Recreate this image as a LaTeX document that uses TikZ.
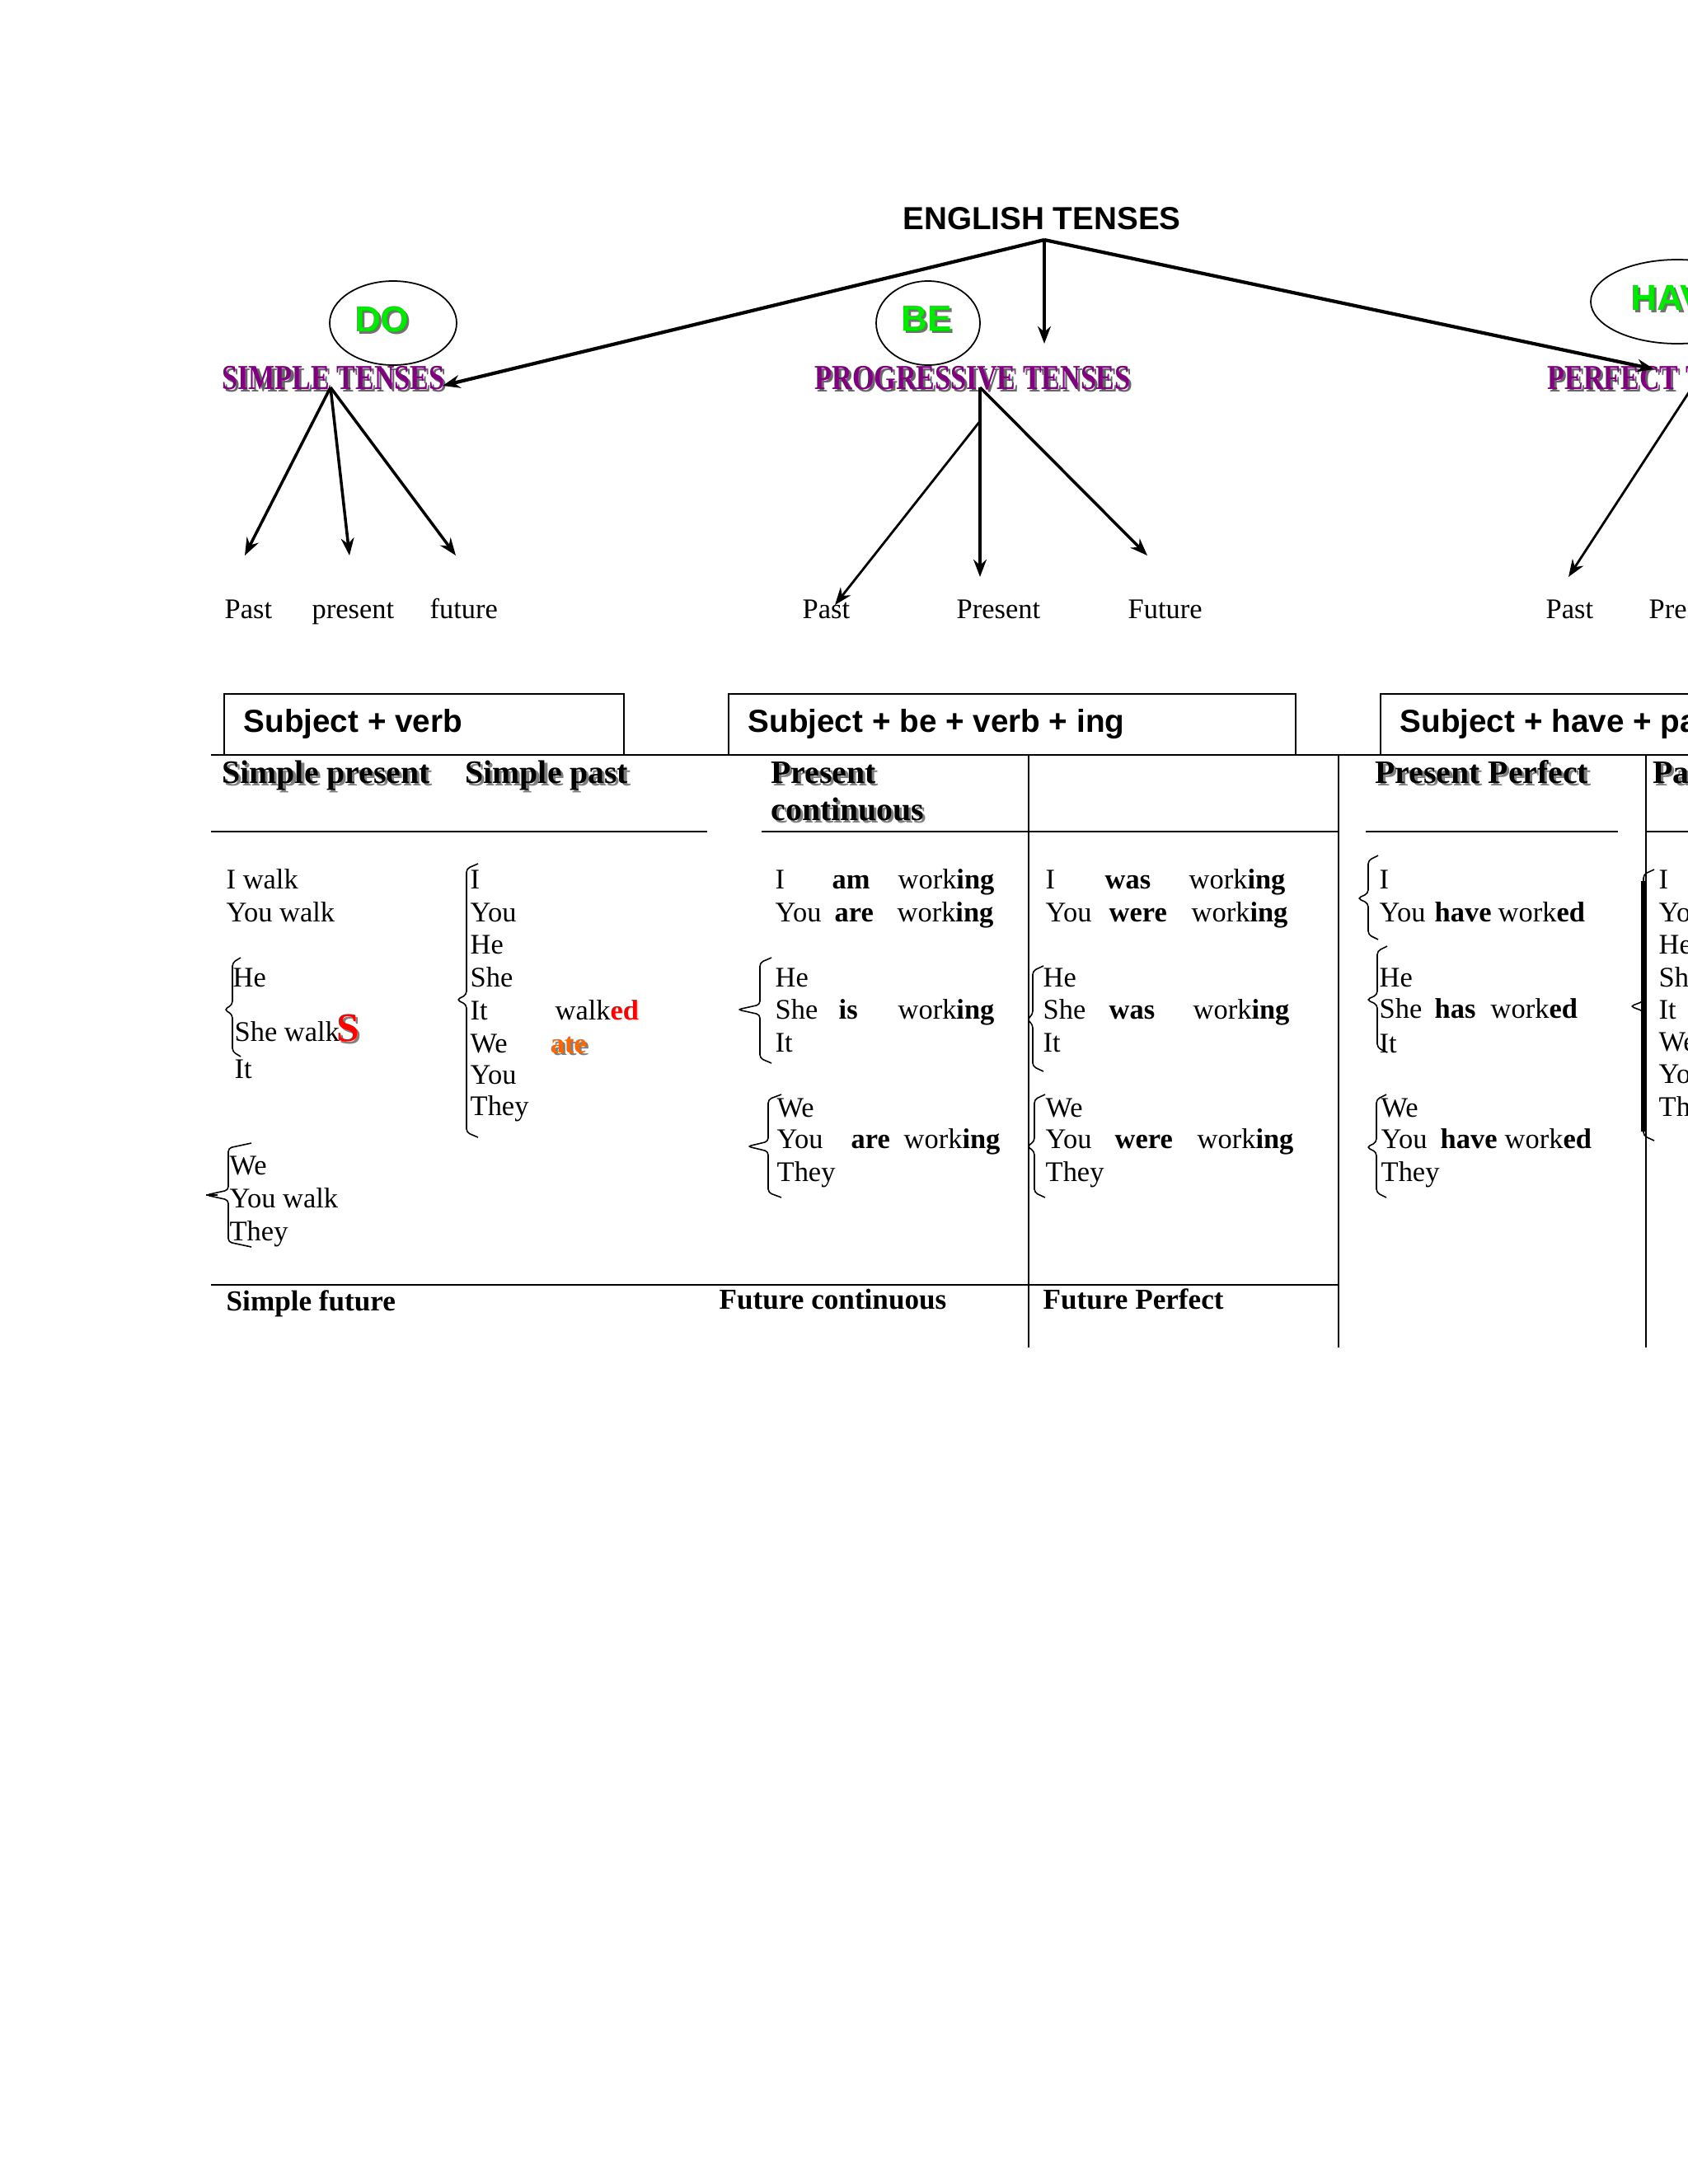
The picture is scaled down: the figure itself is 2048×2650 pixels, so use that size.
\documentclass[tikz,border=0pt]{standalone}
\usepackage{fontspec}
\setmainfont{Liberation Serif}
\newfontfamily\arialf{Liberation Sans}
\newfontfamily\narrowf[FakeStretch=0.8]{Liberation Serif}
\usepackage{xcolor}
\usepackage{tikz}
\usetikzlibrary{arrows.meta}

\definecolor{tensepurple}{RGB}{128,0,128}
\definecolor{auxgreen}{RGB}{0,235,0}
\definecolor{ateorange}{RGB}{255,102,0}

% text with a drop shadow: shadow colour, text colour, text
\newcommand{\shd}[3]{\makebox[0pt][l]{\kern0.9pt\raisebox{-0.9pt}{\textcolor{#1}{#3}}}\textcolor{#2}{#3}}
% brace: x, tip x, top y, tip y, bottom y, hook x
\newcommand{\tbrace}[6]{\draw[brc] (#6,#3) -- (#1,#3+6) -- (#1,#4-6) -- (#2,#4) -- (#1,#4+6) -- (#1,#5-6) -- (#6,#5);}

\begin{document}
\begin{tikzpicture}[x=0.1mm, y=-0.1mm,
    txt/.style={anchor=base west, inner sep=0pt, font=\fontsize{9.8}{11}\selectfont},
    hdr/.style={anchor=base west, inner sep=0pt, font=\bfseries\fontsize{11.3}{13}\selectfont},
    foot/.style={anchor=base west, inner sep=0pt, font=\bfseries\fontsize{10}{12}\selectfont},
    formula/.style={anchor=base west, inner sep=0pt, font=\arialf\bfseries\fontsize{11}{13}\selectfont},
    group/.style={anchor=base west, inner sep=0pt, font=\narrowf\bfseries\fontsize{12.1}{14}\selectfont},
    aux/.style={inner sep=0pt, font=\arialf\bfseries\fontsize{12.5}{14}\selectfont},
    oval/.style={line width=0.5pt},
    rule/.style={line width=0.7pt},
    brc/.style={line width=0.45pt, rounded corners=1.2pt},
    bigarrow/.style={-{Stealth[length=6pt,width=4.5pt]}, line width=1.2pt},
    arr/.style={-{Stealth[length=6pt,width=4.5pt]}, line width=1pt}]
    \useasboundingbox (0,0) rectangle (2048,2650);
    \fill[white] (0,0) rectangle (2048,2650);
    \clip (0,0) rectangle (2048,2650);

    % title and the three groups
    \node[inner sep=0pt, font=\arialf\bfseries\fontsize{11}{13}\selectfont] (eng) at (1264,265) {ENGLISH TENSES};
    \coordinate (apex) at (1267,291);
    \draw[oval] (477,392) ellipse [x radius=77, y radius=51];
    \draw[oval] (1126,392) ellipse [x radius=63, y radius=51];
    \draw[oval] (2035,366) ellipse [x radius=105, y radius=51];
    \node[aux] (do) at (463,389) {\shd{black!55}{auxgreen}{DO}};
    \node[aux] (be) at (1124,388) {\shd{black!55}{auxgreen}{BE}};
    \node[aux, anchor=west] (have) at (1978,363) {\shd{black!55}{auxgreen}{HAVE}};
    \node[group] (simple) at (269,472) {\shd{black!60}{tensepurple}{SIMPLE TENSES}};
    \node[group] (progressive) at (988,472) {\shd{black!60}{tensepurple}{PROGRESSIVE TENSES}};
    \node[group] (perfect) at (1877,472) {\shd{black!60}{tensepurple}{PERFECT TENSES}};
    \coordinate (simpleTip) at (537,468);
    \coordinate (progTip) at (1267,417);
    \coordinate (perfTip) at (2007,448);
    \draw[bigarrow] (apex) -- (simpleTip);
    \draw[bigarrow] (apex) -- (progTip);
    \draw[bigarrow] (apex) -- (perfTip);

    % simple tenses
    \coordinate (simpleRoot) at (401,470);
    \node[txt] (sPast) at (272,750) {Past};
    \node[txt] (sPresent) at (378,750) {present};
    \node[txt] (sFuture) at (521,750) {future};
    \coordinate (sPastTip) at (297,674);
    \coordinate (sPresentTip) at (424,674);
    \coordinate (sFutureTip) at (553,674);
    \draw[arr] (simpleRoot) -- (sPastTip);
    \draw[arr] (simpleRoot) -- (sPresentTip);
    \draw[arr] (simpleRoot) -- (sFutureTip);

    % progressive tenses
    \coordinate (progRoot) at (1189,470);
    \coordinate (progMid) at (1189,511);
    \node[txt] (pPast) at (973,750) {Past};
    \node[txt] (pPresent) at (1160,750) {Present};
    \node[txt] (pFuture) at (1368,750) {Future};
    \coordinate (pPastTip) at (1013,734);
    \coordinate (pPresentTip) at (1189,700);
    \coordinate (pFutureTip) at (1392,674);
    \draw[arr, line width=0.8pt] (progMid) -- (pPastTip);
    \draw[arr] (progRoot) -- (pPresentTip);
    \draw[arr] (progRoot) -- (pFutureTip);

    % perfect tenses
    \coordinate (perfRoot) at (2053,470);
    \node[txt] (fPast) at (1875,750) {Past};
    \node[txt] (fPresent) at (2000,750) {Present};
    \coordinate (fPastTip) at (1903,700);
    \draw[arr, line width=0.8pt] (perfRoot) -- (fPastTip);

    % formula boxes and table rules
    \draw[rule] (272,842) rectangle (757,916);
    \draw[rule] (884,842) rectangle (1572,916);
    \draw[rule] (1675,842) rectangle (2060,916);
    \node[formula] (fSimple) at (295,888) {Subject + verb};
    \node[formula] (fProg) at (907,888) {Subject + be + verb + ing};
    \node[formula] (fPerf) at (1698,888) {Subject + have + past participle};
    \draw[rule] (256,916) -- (2048,916);
    \draw[rule] (256,1009) -- (858,1009);
    \draw[rule] (924,1009) -- (1624,1009);
    \draw[rule] (1657,1009) -- (1963,1009);
    \draw[rule] (1997,1009) -- (2048,1009);
    \draw[rule] (1248,916) -- (1248,1635);
    \draw[rule] (1624,916) -- (1624,1635);
    \draw[rule] (1997,916) -- (1997,1635);
    \draw[rule] (256,1559) -- (1624,1559);

    % column headings
    \node[hdr] (hSPres) at (269,950) {\shd{gray}{black}{Simple present}};
    \node[hdr] (hSPast) at (564,950) {\shd{gray}{black}{Simple past}};
    \node[hdr] (hPCont) at (935,950) {\shd{gray}{black}{Present}};
    \node[hdr] (hPCont2) at (935,995) {\shd{gray}{black}{continuous}};
    \node[hdr] (hPPerf) at (1668,950) {\shd{gray}{black}{Present Perfect}};
    \node[hdr] (hPaPerf) at (2005,950) {\shd{gray}{black}{Past Perfect}};
    \node[foot] (hSFut) at (274,1590) {Simple future};
    \node[foot] (hFCont) at (872,1588) {Future continuous};
    \node[foot] (hFPerf) at (1265,1588) {Future Perfect};

    % simple present
    \node[txt] (sp1) at (274,1078) {I walk};
    \node[txt] (sp2) at (274,1118) {You walk};
    \tbrace{282}{272}{1162}{1225}{1282}{292}
    \node[txt] (sp3) at (282,1197) {He};
    \node[txt] (sp4) at (284,1263) {She walk};
    \node[anchor=base west, inner sep=0pt, xshift=-1.5pt, font=\bfseries\fontsize{14}{16}\selectfont] (bigS) at (sp4.base east) {\shd{gray}{red}{S}};
    \node[txt] (sp5) at (284,1308) {It};
    \tbrace{277}{250}{1387}{1450}{1513}{305}
    \draw[brc] (250,1450) -- (264,1450);
    \node[txt] (sp6) at (278,1425) {We};
    \node[txt] (sp7) at (278,1465) {You walk};
    \node[txt] (sp8) at (278,1505) {They};

    % simple past
    \tbrace{566}{554}{1048}{1213}{1380}{580}
    \node[txt] (pa1) at (570,1078) {I};
    \node[txt] (pa2) at (570,1118) {You};
    \node[txt] (pa3) at (570,1157) {He};
    \node[txt] (pa4) at (570,1197) {She};
    \node[txt] (pa5) at (570,1237) {It};
    \node[txt] (pa6) at (570,1277) {We};
    \node[txt] (pa7) at (570,1315) {You};
    \node[txt] (pa8) at (570,1353) {They};
    \node[txt] (walked) at (673,1237) {walk\textcolor{red}{\textbf{ed}}};
    \node[txt, font=\bfseries\fontsize{9.8}{11}\selectfont] (ate) at (667,1277) {\shd{gray}{ateorange}{ate}};

    % present continuous
    \node[txt] (pc1) at (940,1078) {I};
    \node[txt] (pc1b) at (1009,1078) {\textbf{am}};
    \node[txt] (pc1c) at (1089,1078) {work\textbf{ing}};
    \node[txt] (pc2) at (940,1118) {You};
    \node[txt] (pc2b) at (1012,1118) {\textbf{are}};
    \node[txt] (pc2c) at (1088,1118) {work\textbf{ing}};
    \tbrace{922}{895}{1162}{1225}{1290}{936}
    \node[txt] (pc3) at (940,1197) {He};
    \node[txt] (pc4) at (940,1236) {She};
    \node[txt] (pc4b) at (1017,1236) {\textbf{is}};
    \node[txt] (pc4c) at (1089,1236) {work\textbf{ing}};
    \node[txt] (pc5) at (940,1276) {It};
    \tbrace{932}{907}{1328}{1391}{1453}{948}
    \node[txt] (pc6) at (942,1355) {We};
    \node[txt] (pc7) at (942,1393) {You};
    \node[txt] (pc7b) at (1032,1393) {\textbf{are}};
    \node[txt] (pc7c) at (1096,1393) {work\textbf{ing}};
    \node[txt] (pc8) at (942,1433) {They};

    % past continuous
    \node[txt] (pt1) at (1268,1078) {I};
    \node[txt] (pt1b) at (1340,1078) {\textbf{was}};
    \node[txt] (pt1c) at (1442,1078) {work\textbf{ing}};
    \node[txt] (pt2) at (1268,1118) {You};
    \node[txt] (pt2b) at (1345,1118) {\textbf{were}};
    \node[txt] (pt2c) at (1445,1118) {work\textbf{ing}};
    \tbrace{1253}{1246}{1172}{1237}{1300}{1266}
    \node[txt] (pt3) at (1265,1197) {He};
    \node[txt] (pt4) at (1265,1236) {She};
    \node[txt] (pt4b) at (1345,1236) {\textbf{was}};
    \node[txt] (pt4c) at (1447,1236) {work\textbf{ing}};
    \node[txt] (pt5) at (1265,1276) {It};
    \tbrace{1255}{1246}{1328}{1391}{1453}{1268}
    \node[txt] (pt6) at (1268,1355) {We};
    \node[txt] (pt7) at (1268,1393) {You};
    \node[txt] (pt7b) at (1352,1393) {\textbf{were}};
    \node[txt] (pt7c) at (1452,1393) {work\textbf{ing}};
    \node[txt] (pt8) at (1268,1433) {They};

    % present perfect
    \tbrace{1660}{1647}{1038}{1090}{1140}{1672}
    \node[txt] (pp1) at (1673,1078) {I};
    \node[txt] (pp2) at (1673,1118) {You};
    \node[txt] (pp2b) at (1740,1118) {\textbf{have}};
    \node[txt] (pp2c) at (1817,1118) {work\textbf{ed}};
    \tbrace{1671}{1658}{1148}{1213}{1277}{1683}
    \node[txt] (pp3) at (1673,1197) {He};
    \node[txt] (pp4) at (1673,1235) {She};
    \node[txt] (pp4b) at (1740,1235) {\textbf{has}};
    \node[txt] (pp4c) at (1808,1235) {work\textbf{ed}};
    \node[txt] (pp5) at (1673,1277) {It};
    \tbrace{1670}{1658}{1328}{1392}{1453}{1682}
    \node[txt] (pp6) at (1675,1355) {We};
    \node[txt] (pp7) at (1675,1393) {You};
    \node[txt] (pp7b) at (1747,1393) {\textbf{have}};
    \node[txt] (pp7c) at (1825,1393) {work\textbf{ed}};
    \node[txt] (pp8) at (1675,1433) {They};

    % past perfect
    \tbrace{1994}{1978}{1055}{1221}{1384}{2007}
    \draw[line width=1.6pt] (1994,1069) -- (1994,1373);
    \node[txt] (pf1) at (2012,1078) {I};
    \node[txt] (pf2) at (2012,1118) {You};
    \node[txt] (pf3) at (2012,1157) {He};
    \node[txt] (pf4) at (2012,1197) {She};
    \node[txt] (pf5) at (2012,1236) {It};
    \node[txt] (pf6) at (2012,1275) {We};
    \node[txt] (pf7) at (2012,1314) {You};
    \node[txt] (pf8) at (2012,1354) {They};
\end{tikzpicture}
\end{document}
